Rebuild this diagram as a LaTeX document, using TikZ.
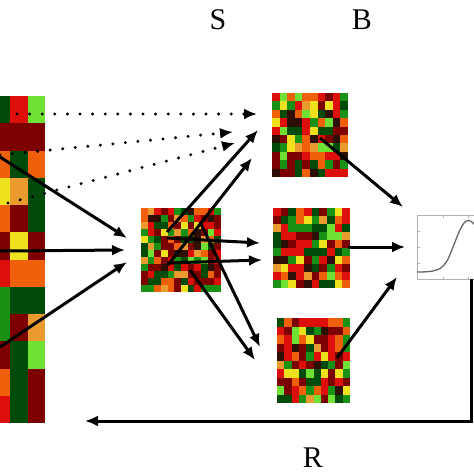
\documentclass[tikz,border=0pt]{standalone}
\usepackage{fontspec}
\setmainfont{Liberation Serif}
\usetikzlibrary{arrows.meta}
\tikzset{
  >={Latex[length=13pt,width=11pt]},
}
\tikzstyle{vector}=[line width=3pt,->]
\tikzstyle{dots}=[vector,line width=3.3pt,line cap=round,dash pattern=on 0pt off 12.6pt]
\tikzstyle{every node}=[font=\fontsize{30}{34}\selectfont]
\definecolor{hm1}{RGB}{220,15,10}
\definecolor{hm2}{RGB}{125,0,0}
\definecolor{hm3}{RGB}{45,15,5}
\definecolor{hm4}{RGB}{0,75,10}
\definecolor{hm5}{RGB}{25,145,20}
\definecolor{hm6}{RGB}{110,225,50}
\definecolor{hm7}{RGB}{240,95,10}
\definecolor{hm8}{RGB}{235,155,45}
\definecolor{hm9}{RGB}{240,225,30}
\pgfmathdeclarerandomlist{heat}{{hm1}{hm1}{hm1}{hm2}{hm2}{hm2}{hm3}{hm3}{hm4}{hm4}{hm4}{hm5}{hm5}{hm6}{hm7}{hm7}{hm8}{hm9}}
% x, y, columns, rows, cell width, cell height
\newcommand{\heatmap}[6]{%
  \foreach \cx in {1,...,#3}{
    \foreach \cy in {1,...,#4}{
      \pgfmathrandomitem{\hc}{heat}
      \fill[\hc] ({#1+(\cx-1)*#5},{#2+(\cy-1)*#6}) rectangle +(#5+0.3,#6+0.3);
    }
  }
}

\begin{document}
\begin{tikzpicture}[x=1pt,y=-1pt]
    \useasboundingbox (0,0) rectangle (474,474);
    \pgfmathsetseed{4711}

    % input column
    \foreach \r/\ca/\cb/\cc in {1/hm4/hm1/hm6, 2/hm2/hm2/hm2, 3/hm7/hm4/hm7, 4/hm9/hm8/hm4,
      5/hm7/hm2/hm4, 6/hm2/hm9/hm2, 7/hm1/hm7/hm7, 8/hm5/hm4/hm4, 9/hm5/hm2/hm8,
      10/hm2/hm4/hm6, 11/hm7/hm4/hm2, 12/hm1/hm4/hm2}{
      \fill[\ca] (0,{96+(\r-1)*27.25}) rectangle +(10.3,27.6);
      \fill[\cb] (10,{96+(\r-1)*27.25}) rectangle +(18.3,27.6);
      \fill[\cc] (28,{96+(\r-1)*27.25}) rectangle +(17,27.6);
    }

    % matrices
    \heatmap{141}{208}{12}{12}{6.67}{7}
    \heatmap{272}{93}{10}{10}{7.6}{8.4}
    \heatmap{273}{208}{10}{10}{7.7}{8}
    \heatmap{277}{318}{10}{10}{7.3}{8.5}

    % sigmoid
    \draw[gray!60,line width=.6pt] (417,215) rectangle (480,279);
    \foreach \t in {443,468}{
      \draw[gray!60,line width=.5pt] (\t,215)--+(0,2.5) (\t,279)--+(0,-2.5);
    }
    \foreach \t in {231,247,263}{
      \draw[gray!60,line width=.5pt] (417,\t)--+(2.5,0);
    }
    \draw[gray!80!black,line width=1.3pt] plot[smooth] coordinates {(417,272) (430,271.5) (440,268.5)
      (447,261) (453,247) (459,232) (464,223) (468,220.5) (472,222) (476,226)};

    % arrow ends
    \coordinate (in1) at (0,157);   \coordinate (in2) at (0,251);   \coordinate (in3) at (0,347);
    \coordinate (sa) at (127,238);  \coordinate (sb) at (125,250);  \coordinate (sc) at (127,262);
    \coordinate (d1) at (17,114);   \coordinate (d2) at (0,155);    \coordinate (d3) at (8,203);
    \coordinate (e1) at (257,114);  \coordinate (e2) at (233,132);  \coordinate (e3) at (235,143);
    \coordinate (s1) at (167,232);  \coordinate (s2) at (168,265);  \coordinate (s3) at (167,238);
    \coordinate (s4) at (167,263);  \coordinate (s5) at (200,222);  \coordinate (s6) at (190,270);
    \coordinate (b1) at (258,130);  \coordinate (b2) at (252,158);  \coordinate (b3) at (260,243);
    \coordinate (b4) at (262,260);  \coordinate (b5) at (260,347);  \coordinate (b6) at (255,360);
    \coordinate (o1) at (320,138);  \coordinate (o2) at (348,247);  \coordinate (o3) at (337,358);
    \coordinate (g1) at (403,207);  \coordinate (g2) at (405,247);  \coordinate (g3) at (397,277);
    \coordinate (fb) at (471,279);  \coordinate (back) at (85,421);

    \draw[vector] (in1)--(sa);
    \draw[vector] (in2)--(sb);
    \draw[vector] (in3)--(sc);
    \draw[dots] (d1)--(e1);
    \draw[dots] (d2)--(e2);
    \draw[dots] (d3)--(e3);
    \foreach \a/\b in {s1/b1,s2/b2,s3/b3,s4/b4,s5/b5,s6/b6,o1/g1,o2/g2,o3/g3}{
      \draw[vector] (\a)--(\b);
    }
    \draw[vector] (fb)|-(back);

    \node (lblS) at (218,20) {S};
    \node (lblB) at (362,20) {B};
    \node (lblR) at (313,458) {R};
\end{tikzpicture}
\end{document}
